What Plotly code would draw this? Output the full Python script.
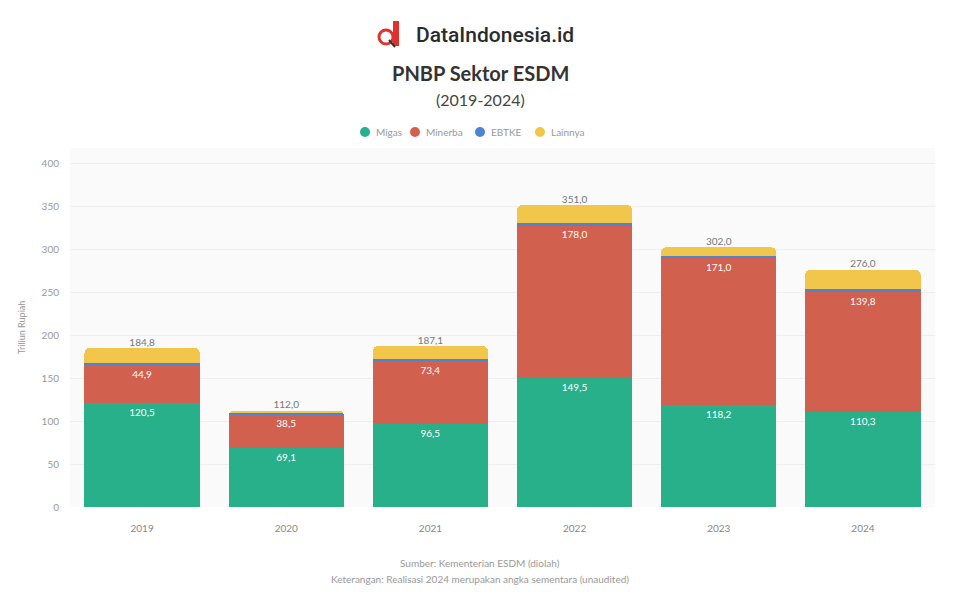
import plotly.graph_objects as go

years = ["2019", "2020", "2021", "2022", "2023", "2024"]
migas = [120.5, 69.1, 96.5, 149.5, 118.2, 110.3]
minerba = [44.9, 38.5, 73.4, 178.0, 171.0, 139.8]
ebtke = [2.3, 1.6, 1.9, 2.3, 3.0, 3.1]
lainnya = [17.1, 2.8, 15.3, 21.2, 9.8, 22.8]
series_names = ["Migas", "Minerba", "EBTKE", "Lainnya"]
colors = ["#28b08a", "#d2604f", "#4f82d2", "#f2c64a"]
y_ticks = [0, 50, 100, 150, 200, 250, 300, 350, 400]

data = [migas, minerba, ebtke, lainnya]
totals = [round(sum(v), 1) for v in zip(*data)]

W, H = 960, 600
OFF = 8  # page body offset
# screen-space plot area
SX0, SX1, SY0, SY1 = 70, 935, 148, 507
L, R = SX0 - OFF, W - (SX1 - OFF)
T, B = SY0 - OFF, H - (SY1 - OFF)
PW, PH = W - L - R, H - T - B


def px(x):
    return (x - OFF - L) / PW


def py(y):
    return (H - B - (y - OFF)) / PH


fig = go.Figure()
for name, vals, col in zip(series_names, data, colors):
    show_text = name in ("Migas", "Minerba")
    fig.add_trace(go.Bar(
        x=years, y=vals, name=name, marker_color=col, showlegend=False,
        text=[f"{v:.1f}".replace(".", ",") for v in vals] if show_text else None,
        textposition="inside", insidetextanchor="end",
        textfont=dict(color="white", size=10, family="Lato"),
        marker_line_width=0,
    ))

fig.add_trace(go.Scatter(
    x=years, y=totals, mode="text", showlegend=False,
    text=[f"{v:.1f}".replace(".", ",") for v in totals],
    textposition="top center", textfont=dict(color="#777777", size=10, family="Lato"),
))

fig.update_layout(
    width=W, height=H,
    barmode="stack", bargap=0.2, barcornerradius=5,
    paper_bgcolor="white", plot_bgcolor="#fafafa",
    margin=dict(l=L, r=R, t=T, b=B, autoexpand=False),
    font=dict(family="Lato", color="#666666"),
    showlegend=False,
    xaxis=dict(tickfont=dict(size=10, color="#888888"), showgrid=False,
               ticks="outside", ticklen=12, tickcolor="rgba(0,0,0,0)",
               showline=False, automargin=False),
    yaxis=dict(range=[0, 417.5], tickvals=y_ticks, tickfont=dict(size=10, color="#999999"),
               gridcolor="#eeeeee", zeroline=False, showline=False, automargin=False,
               ticks="outside", ticklen=8, tickcolor="rgba(0,0,0,0)",
               title=dict(text="Triliun Rupiah", font=dict(size=9, color="#999999"), standoff=14)),
)

# Custom legend (circles + labels)
legend_x = [365, 415, 480, 540]
legend_y = 132
for name, col, lx in zip(series_names, colors, legend_x):
    r = 5
    fig.add_shape(type="circle", xref="paper", yref="paper",
                  x0=px(lx - r), x1=px(lx + r), y0=py(legend_y + r), y1=py(legend_y - r),
                  fillcolor=col, line_width=0)
    fig.add_annotation(text=name, xref="paper", yref="paper", x=px(lx + 9), y=py(legend_y),
                       showarrow=False, xanchor="left", yanchor="middle",
                       font=dict(size=10, color="#999999", family="Lato"))

# Header: logo + brand
fig.add_shape(type="circle", xref="paper", yref="paper",
              x0=px(379), x1=px(393), y0=py(44), y1=py(30),
              line=dict(color="#e0322d", width=3), fillcolor="white")
fig.add_shape(type="rect", xref="paper", yref="paper",
              x0=px(393), x1=px(399), y0=py(46), y1=py(21),
              line_width=0, fillcolor="#e0322d")
fig.add_shape(type="line", xref="paper", yref="paper",
              x0=px(389), x1=px(395), y0=py(40), y1=py(47),
              line=dict(color="#333333", width=2))
fig.add_annotation(text="DataIndonesia.id", xref="paper", yref="paper", x=px(414),
                   y=py(35), showarrow=False, xanchor="left", yanchor="middle",
                   font=dict(size=21, color="#2b2b2b", family="Roboto", weight=500))
fig.add_annotation(text="<b>PNBP Sektor ESDM</b>", xref="paper", yref="paper", x=px(480),
                   y=py(73), showarrow=False, xanchor="center", yanchor="middle",
                   font=dict(size=20, color="#333333", family="Lato"))
fig.add_annotation(text="(2019-2024)", xref="paper", yref="paper", x=px(480),
                   y=py(99), showarrow=False, xanchor="center", yanchor="middle",
                   font=dict(size=16, color="#444444", family="Lato"))
fig.add_annotation(text="Sumber: Kementerian ESDM (diolah)", xref="paper", yref="paper", x=px(480),
                   y=py(563), showarrow=False, xanchor="center", yanchor="middle",
                   font=dict(size=10, color="#999999", family="Lato"))
fig.add_annotation(text="Keterangan: Realisasi 2024 merupakan angka sementara (unaudited)",
                   xref="paper", yref="paper", x=px(480),
                   y=py(579), showarrow=False, xanchor="center", yanchor="middle",
                   font=dict(size=10, color="#999999", family="Lato"))

fig.write_html("out.html")
